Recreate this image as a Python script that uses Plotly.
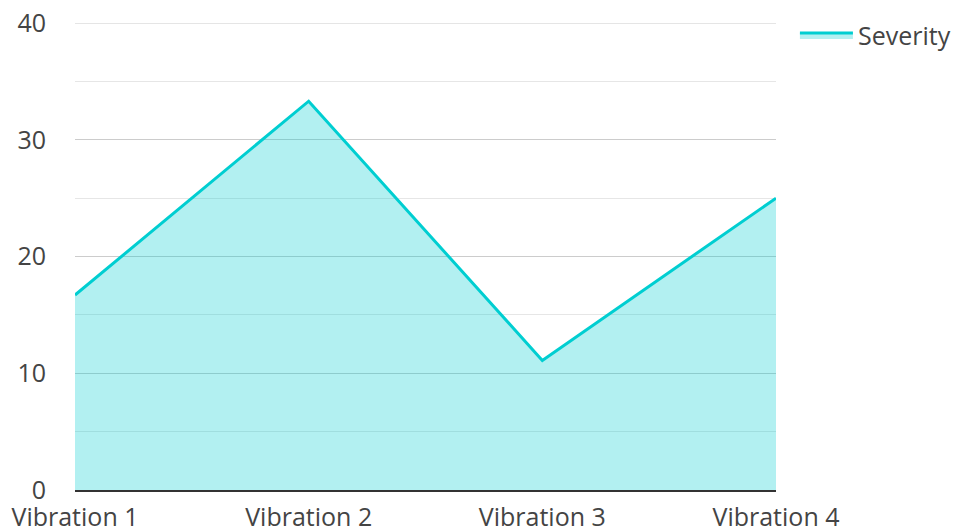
import plotly.graph_objects as go

categories = ["Vibration 1", "Vibration 2", "Vibration 3", "Vibration 4"]
severity = [16.7, 33.3, 11.1, 25.0]
y_ticks = [0, 10, 20, 30, 40]

fig = go.Figure()
fig.add_trace(go.Scatter(
    x=categories, y=severity, name="Severity", mode="lines",
    line=dict(color="#00CED1", width=3),
    fill="tozeroy", fillcolor="rgba(0,206,209,0.3)",
))

font = dict(family="Open Sans", size=25, color="#444444")
fig.update_layout(
    width=955, height=531,
    margin=dict(l=75, r=179, t=23, b=41, autoexpand=False),
    plot_bgcolor="white", paper_bgcolor="white",
    font=font,
    showlegend=True,
    legend=dict(x=1.027, y=1.023, xanchor="left", yanchor="top", font=font,
                bgcolor="rgba(0,0,0,0)", itemwidth=53),
    xaxis=dict(range=[0, 3], showgrid=False, showline=True, linecolor="#333333",
               linewidth=2, ticks="", tickfont=font, zeroline=False, fixedrange=True,
               automargin=False, ticklabelstandoff=4, ticklabeloverflow="allow"),
    yaxis=dict(range=[0, 40], tickvals=y_ticks, showgrid=True, gridcolor="#cccccc",
               gridwidth=1, zeroline=False, showline=False, ticks="", tickfont=font,
               ticklabelstandoff=28, automargin=False, ticklabeloverflow="allow",
               minor=dict(dtick=5, showgrid=True, gridcolor="#e6e6e6", gridwidth=1)),
)
# top gridline (plotly skips the grid line at the plot edge)
fig.add_shape(type="line", xref="paper", yref="y", x0=0, x1=1,
              y0=y_ticks[-1], y1=y_ticks[-1], line=dict(color="#cccccc", width=1),
              layer="below")
# remove the default page margin so the figure fills the window exactly
fig.write_html("out.html",
               config={"displayModeBar": False},
               post_script="document.body.style.margin='0';document.body.style.overflow='hidden';")
